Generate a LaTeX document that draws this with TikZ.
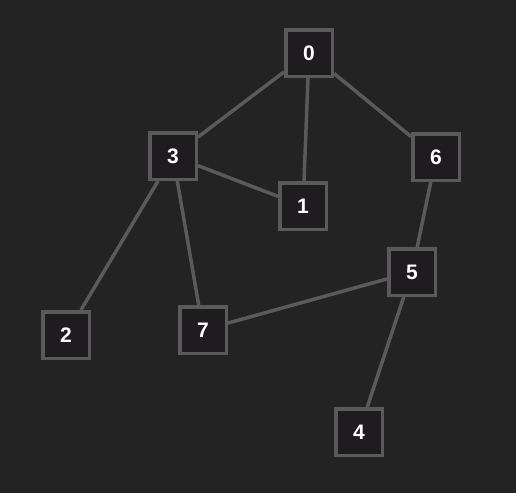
\documentclass[tikz,border=0pt]{standalone}
\usepackage{fontspec}
\setmainfont{Liberation Sans}
\definecolor{bg}{HTML}{232324}
\definecolor{boxfill}{HTML}{1E1C1E}
\definecolor{edgec}{HTML}{5A5A5A}
\begin{document}
\begin{tikzpicture}[x=1pt,y=-1pt,
  vbox/.style={draw=edgec, line width=3.5pt, fill=boxfill, minimum size=46.5pt, inner sep=0pt,
    text=white, font=\fontsize{21}{21}\selectfont\bfseries},
  edge/.style={draw=edgec, line width=3.5pt}]
\fill[bg] (0,0) rectangle (516,493);
\useasboundingbox (0,0) rectangle (516,493);
\node[vbox] (n0) at (309,53) {0};
\node[vbox] (n3) at (173,156) {3};
\node[vbox] (n6) at (436,157) {6};
\node[vbox] (n1) at (303,206) {1};
\node[vbox] (n5) at (412,272) {5};
\node[vbox] (n2) at (66,335) {2};
\node[vbox] (n7) at (203,330) {7};
\node[vbox] (n4) at (359,432) {4};
\draw[edge] (n0) -- (n3);
\draw[edge] (n0) -- (n1);
\draw[edge] (n0) -- (n6);
\draw[edge] (n3) -- (n1);
\draw[edge] (n3) -- (n2);
\draw[edge] (n3) -- (n7);
\draw[edge] (n6) -- (n5);
\draw[edge] (n5) -- (n7);
\draw[edge] (n5) -- (n4);
\end{tikzpicture}
\end{document}
